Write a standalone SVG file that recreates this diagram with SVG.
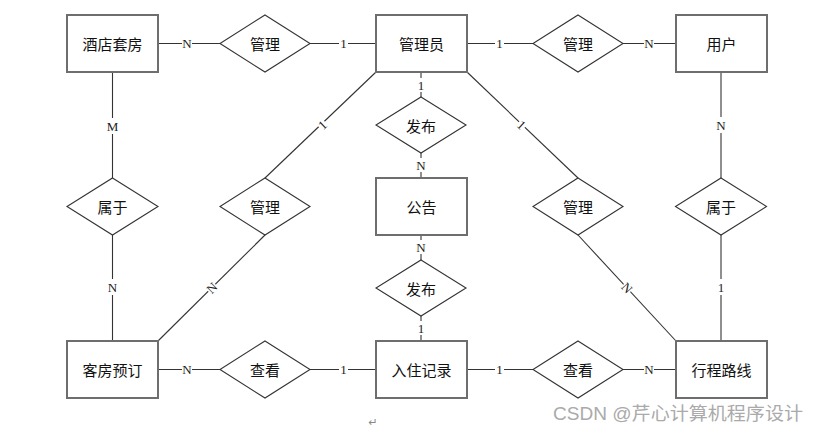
<svg xmlns="http://www.w3.org/2000/svg" width="819" height="435" viewBox="0 0 819 435">
<style>
.ent rect{fill:#fff;stroke:#6e6e6e;stroke-width:2}
.rel polygon{fill:#fff;stroke:#333;stroke-width:1.1}
.t{font-family:"Noto Sans CJK SC","Noto Sans CJK JP",sans-serif;font-size:15px;fill:#111;text-anchor:middle;dominant-baseline:central}
#connectors line{stroke:#333;stroke-width:1.1}
.lab{font-family:"Liberation Serif",serif;font-size:13px;fill:#222;text-anchor:middle;dominant-baseline:central}
.bg{fill:#fff}
</style>
<rect width="819" height="435" fill="#fff"/>
<g id="connectors">
<line x1="158" y1="43.5" x2="220" y2="43.5"/>
<line x1="310" y1="43.5" x2="376" y2="43.5"/>
<line x1="467" y1="43.5" x2="533" y2="43.5"/>
<line x1="623" y1="43.5" x2="676" y2="43.5"/>
<line x1="421" y1="72" x2="421" y2="97"/>
<line x1="421" y1="153" x2="421" y2="178"/>
<line x1="421" y1="235" x2="421" y2="260"/>
<line x1="421" y1="316" x2="421" y2="341"/>
<line x1="112.5" y1="72" x2="112.5" y2="178"/>
<line x1="112.5" y1="235" x2="112.5" y2="341"/>
<line x1="721" y1="72" x2="721" y2="178"/>
<line x1="721" y1="235" x2="721" y2="341"/>
<line x1="376" y1="72" x2="265" y2="178"/>
<line x1="265" y1="235" x2="158" y2="341"/>
<line x1="467" y1="72" x2="578" y2="178"/>
<line x1="578" y1="235" x2="676" y2="341"/>
<line x1="158" y1="369.5" x2="220" y2="369.5"/>
<line x1="310" y1="369.5" x2="376" y2="369.5"/>
<line x1="467" y1="369.5" x2="533" y2="369.5"/>
<line x1="623" y1="369.5" x2="676" y2="369.5"/>
<g id="labels">
<rect class="bg" x="182" y="36" width="10" height="15"/><text class="lab" x="187" y="43.5">N</text>
<rect class="bg" x="339" y="36" width="9" height="15"/><text class="lab" x="343.5" y="43.5">1</text>
<rect class="bg" x="495" y="36" width="9" height="15"/><text class="lab" x="499.5" y="43.5">1</text>
<rect class="bg" x="644" y="36" width="10" height="15"/><text class="lab" x="649" y="43.5">N</text>
<rect class="bg" x="415" y="78" width="12" height="14"/><text class="lab" x="421" y="85">1</text>
<rect class="bg" x="415" y="158" width="12" height="14"/><text class="lab" x="421" y="165">N</text>
<rect class="bg" x="415" y="240" width="12" height="14"/><text class="lab" x="421" y="247">N</text>
<rect class="bg" x="415" y="321" width="12" height="14"/><text class="lab" x="421" y="328">1</text>
<rect class="bg" x="106" y="118" width="13" height="16"/><text class="lab" x="112.5" y="126">M</text>
<rect class="bg" x="106" y="279" width="13" height="16"/><text class="lab" x="112.5" y="287">N</text>
<rect class="bg" x="715" y="117" width="12" height="16"/><text class="lab" x="721" y="125">N</text>
<rect class="bg" x="715" y="279" width="12" height="16"/><text class="lab" x="721" y="287">1</text>
<g transform="translate(322.5,125) rotate(-43.7)"><rect class="bg" x="-4" y="-6" width="8" height="12"/><text class="lab" x="0" y="0">1</text></g>
<g transform="translate(212,288) rotate(-44.7)"><rect class="bg" x="-5" y="-6" width="10" height="12"/><text class="lab" x="0" y="0">N</text></g>
<g transform="translate(521.5,125) rotate(43.7)"><rect class="bg" x="-4" y="-6" width="8" height="12"/><text class="lab" x="0" y="0">1</text></g>
<g transform="translate(627,288) rotate(47.2)"><rect class="bg" x="-5" y="-6" width="10" height="12"/><text class="lab" x="0" y="0">N</text></g>
<rect class="bg" x="182" y="362" width="10" height="15"/><text class="lab" x="187" y="369.5">N</text>
<rect class="bg" x="339" y="362" width="9" height="15"/><text class="lab" x="343.5" y="369.5">1</text>
<rect class="bg" x="495" y="362" width="9" height="15"/><text class="lab" x="499.5" y="369.5">1</text>
<rect class="bg" x="644" y="362" width="10" height="15"/><text class="lab" x="649" y="369.5">N</text>
</g>
</g>
<g id="e_hotel" class="ent"><rect x="67" y="15" width="91" height="57"/><text class="t" x="112.5" y="43.5">酒店套房</text></g>
<g id="e_admin" class="ent"><rect x="376" y="15" width="91" height="57"/><text class="t" x="421.5" y="43.5">管理员</text></g>
<g id="e_user" class="ent"><rect x="676" y="15" width="91" height="57"/><text class="t" x="721.5" y="43.5">用户</text></g>
<g id="e_notice" class="ent"><rect x="376" y="178" width="91" height="57"/><text class="t" x="421.5" y="206.5">公告</text></g>
<g id="e_booking" class="ent"><rect x="67" y="341" width="91" height="57"/><text class="t" x="112.5" y="369.5">客房预订</text></g>
<g id="e_checkin" class="ent"><rect x="376" y="341" width="91" height="57"/><text class="t" x="421.5" y="369.5">入住记录</text></g>
<g id="e_route" class="ent"><rect x="676" y="341" width="91" height="57"/><text class="t" x="721.5" y="369.5">行程路线</text></g>
<g id="r_manage1" class="rel"><polygon points="265,15 310,43.5 265,72 220,43.5"/><text class="t" x="265" y="43.5">管理</text></g>
<g id="r_manage2" class="rel"><polygon points="578,15 623,43.5 578,72 533,43.5"/><text class="t" x="578" y="43.5">管理</text></g>
<g id="r_publish1" class="rel"><polygon points="421,97 466,125 421,153 376,125"/><text class="t" x="421" y="125">发布</text></g>
<g id="r_manage3" class="rel"><polygon points="265,178 310,206.5 265,235 220,206.5"/><text class="t" x="265" y="206.5">管理</text></g>
<g id="r_manage4" class="rel"><polygon points="578,178 623,206.5 578,235 533,206.5"/><text class="t" x="578" y="206.5">管理</text></g>
<g id="r_belong1" class="rel"><polygon points="112.5,178 158,206.5 112.5,235 67,206.5"/><text class="t" x="112.5" y="206.5">属于</text></g>
<g id="r_belong2" class="rel"><polygon points="721,178 766.5,206.5 721,235 675.5,206.5"/><text class="t" x="721" y="206.5">属于</text></g>
<g id="r_publish2" class="rel"><polygon points="421,260 466,288 421,316 376,288"/><text class="t" x="421" y="288">发布</text></g>
<g id="r_view1" class="rel"><polygon points="265,341 310,369.5 265,398 220,369.5"/><text class="t" x="265" y="369.5">查看</text></g>
<g id="r_view2" class="rel"><polygon points="578,341 623,369.5 578,398 533,369.5"/><text class="t" x="578" y="369.5">查看</text></g>
<text x="373" y="426" font-family="DejaVu Sans,sans-serif" font-size="11" fill="#888" text-anchor="middle">↵</text>
<text x="553" y="420" font-family="Liberation Sans,'Noto Sans CJK SC',sans-serif" font-size="18" fill="#aaa" textLength="250" lengthAdjust="spacingAndGlyphs">CSDN @芹心计算机程序设计</text>
</svg>
